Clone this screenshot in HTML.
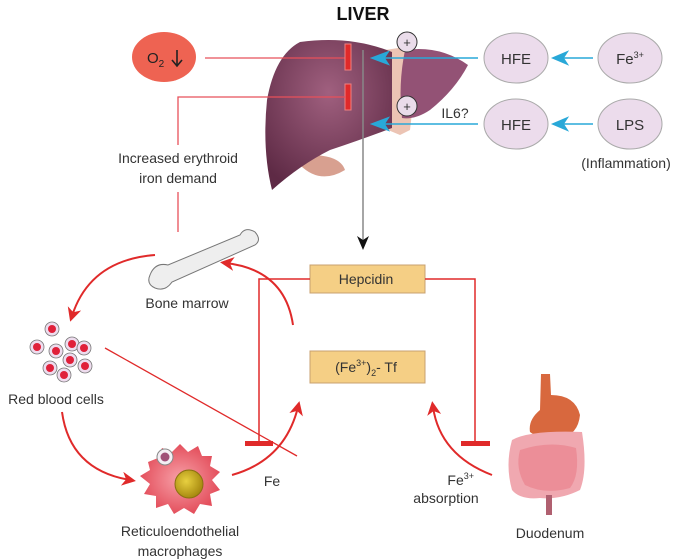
<!DOCTYPE html>
<html><head><meta charset="utf-8"><style>
html,body{margin:0;padding:0;background:#fff}
svg{display:block}
text{font-family:"Liberation Sans",sans-serif;fill:#333}
</style></head><body>
<svg width="685" height="560" viewBox="0 0 685 560" xmlns="http://www.w3.org/2000/svg">
<defs>
<radialGradient id="lv" cx="0.5" cy="0.35" r="0.7"><stop offset="0" stop-color="#a0607f"/><stop offset="1" stop-color="#5e2a45"/></radialGradient>
<radialGradient id="mc" cx="0.5" cy="0.5" r="0.6"><stop offset="0" stop-color="#f7a0a8"/><stop offset="1" stop-color="#e0404e"/></radialGradient>
<radialGradient id="nu" cx="0.4" cy="0.4" r="0.6"><stop offset="0" stop-color="#e8d040"/><stop offset="1" stop-color="#a88a10"/></radialGradient>
<marker id="ra" markerWidth="14" markerHeight="14" refX="8" refY="7" orient="auto" markerUnits="userSpaceOnUse"><path d="M0,0 L14,7 L0,14 L4,7Z" fill="#e02a2a"/></marker>
</defs>
<text x="363" y="20" font-size="18" font-weight="bold" text-anchor="middle" style="fill:#111">LIVER</text>
<!-- liver -->
<path d="M385,50 L412,46 L418,60 L410,130 L400,135 L388,130Z" fill="#ecc4b4"/>
<path d="M300,165 Q320,185 345,170 Q340,155 310,155Z" fill="#d8a090"/>
<path d="M300,42 Q350,35 392,52 L392,128 Q360,140 330,150 Q300,165 272,190 Q262,150 267,100 Q275,55 300,42Z" fill="url(#lv)"/>
<path d="M405,50 Q440,45 468,65 Q455,90 430,110 Q415,120 402,118 Q398,85 405,50Z" fill="#935275"/>
<!-- O2 -->
<ellipse cx="164" cy="57" rx="32" ry="25" fill="#ee6352"/>
<text x="147" y="63" font-size="15" style="fill:#222">O<tspan font-size="10" dy="4">2</tspan></text>
<path d="M177,50 V65 M172,60 L177,66 L182,60" stroke="#222" stroke-width="1.6" fill="none"/>
<line x1="205" y1="58" x2="346" y2="58" stroke="#e8505a" stroke-width="1.3"/>
<rect x="345" y="44" width="6" height="26" fill="#e02a2a" stroke="#f08080"/>
<rect x="345" y="84" width="6" height="26" fill="#e02a2a" stroke="#f08080"/>
<path d="M346,97 H178 V145 M178,192 V232" stroke="#e8505a" stroke-width="1.3" fill="none"/>
<text x="178" y="163" font-size="14" text-anchor="middle">Increased erythroid</text>
<text x="178" y="183" font-size="14" text-anchor="middle">iron demand</text>
<!-- grey down arrow -->
<line x1="363" y1="50" x2="363" y2="240" stroke="#888" stroke-width="1.5"/>
<path d="M357,236 L363,250 L369,236 L363,240Z" fill="#111"/>
<!-- plus -->
<circle cx="407" cy="42" r="10" fill="#eadcea" stroke="#333"/><text x="407" y="47" font-size="13" text-anchor="middle">+</text>
<circle cx="407" cy="106" r="10" fill="#eadcea" stroke="#333"/><text x="407" y="111" font-size="13" text-anchor="middle">+</text>
<!-- cyan arrows -->
<g stroke="#29a8d8" stroke-width="1.6" fill="#29a8d8">
<line x1="478" y1="58" x2="380" y2="58"/><path d="M372,58 L388,52 L384,58 L388,64Z"/>
<line x1="478" y1="124" x2="380" y2="124"/><path d="M372,124 L388,118 L384,124 L388,130Z"/>
<line x1="593" y1="58" x2="560" y2="58"/><path d="M553,58 L567,52 L563,58 L567,64Z"/>
<line x1="593" y1="124" x2="560" y2="124"/><path d="M553,124 L567,118 L563,124 L567,130Z"/>
</g>
<g fill="#ecdcec" stroke="#aaa">
<ellipse cx="516" cy="58" rx="32" ry="25"/><ellipse cx="516" cy="124" rx="32" ry="25"/>
<ellipse cx="630" cy="58" rx="32" ry="25"/><ellipse cx="630" cy="124" rx="32" ry="25"/>
</g>
<text x="516" y="64" font-size="15" text-anchor="middle">HFE</text>
<text x="516" y="130" font-size="15" text-anchor="middle">HFE</text>
<text x="630" y="64" font-size="15" text-anchor="middle">Fe<tspan font-size="9" dy="-6">3+</tspan></text>
<text x="630" y="130" font-size="15" text-anchor="middle">LPS</text>
<text x="455" y="118" font-size="14" text-anchor="middle">IL6?</text>
<text x="626" y="168" font-size="14" text-anchor="middle">(Inflammation)</text>
<!-- boxes -->
<rect x="310" y="265" width="115" height="28" fill="#f5cf85" stroke="#c8a070"/>
<text x="366" y="284" font-size="14" text-anchor="middle">Hepcidin</text>
<rect x="310" y="351" width="115" height="32" fill="#f5cf85" stroke="#c8a070"/>
<text x="366" y="372" font-size="14" text-anchor="middle">(Fe<tspan font-size="9" dy="-6">3+</tspan><tspan dy="6">)</tspan><tspan font-size="9" dy="4">2</tspan><tspan dy="-4">- Tf</tspan></text>
<!-- inhibitory lines -->
<path d="M310,279 H259 V443" stroke="#e02a2a" stroke-width="1.5" fill="none"/>
<rect x="245" y="441" width="28" height="5" fill="#e02a2a"/>
<path d="M425,279 H475 V443" stroke="#e02a2a" stroke-width="1.5" fill="none"/>
<rect x="461" y="441" width="29" height="5" fill="#e02a2a"/>
<line x1="105" y1="348" x2="297" y2="456" stroke="#e02a2a" stroke-width="1.3"/>
<!-- curved arrows -->
<g stroke="#e02a2a" stroke-width="2" fill="none" marker-end="url(#ra)">
<path d="M62,412 Q70,470 130,480"/>
<path d="M232,475 Q285,460 298,407"/>
<path d="M293,325 Q285,270 226,263"/>
<path d="M155,255 Q90,260 72,316"/>
<path d="M492,475 Q440,455 433,407"/>
</g>
<!-- bone -->
<path d="M150,275 Q155,262 168,265 L240,235 Q245,226 255,232 Q262,240 255,245 L172,282 Q165,292 155,288 Q146,284 150,275Z" fill="#eee" stroke="#777"/>
<text x="187" y="308" font-size="14" text-anchor="middle">Bone marrow</text>
<!-- RBCs -->
<g fill="#eedcee" stroke="#777" stroke-width="0.8">
<circle cx="52" cy="329" r="7"/><circle cx="37" cy="347" r="7"/><circle cx="72" cy="344" r="7"/><circle cx="84" cy="348" r="7"/>
<circle cx="56" cy="351" r="7"/><circle cx="70" cy="360" r="7"/><circle cx="85" cy="366" r="7"/><circle cx="50" cy="368" r="7"/><circle cx="64" cy="375" r="7"/>
</g>
<g fill="#e0203a">
<circle cx="52" cy="329" r="4"/><circle cx="37" cy="347" r="4"/><circle cx="72" cy="344" r="4"/><circle cx="84" cy="348" r="4"/>
<circle cx="56" cy="351" r="4"/><circle cx="70" cy="360" r="4"/><circle cx="85" cy="366" r="4"/><circle cx="50" cy="368" r="4"/><circle cx="64" cy="375" r="4"/>
</g>
<text x="56" y="404" font-size="14" text-anchor="middle">Red blood cells</text>
<!-- macrophage -->
<path d="M148,462 L158,458 L162,448 L172,452 L180,444 L188,452 L198,446 L202,456 L212,456 L210,466 L220,472 L212,480 L220,490 L210,494 L212,506 L200,504 L194,514 L184,508 L174,514 L168,504 L156,508 L156,496 L144,494 L150,484 L140,476 L150,470Z" fill="url(#mc)"/>
<circle cx="189" cy="484" r="14" fill="url(#nu)" stroke="#8a7010"/>
<circle cx="165" cy="457" r="8" fill="#f4eef4" stroke="#888"/><circle cx="165" cy="457" r="4.5" fill="#a05078"/>
<text x="272" y="486" font-size="14" text-anchor="middle">Fe</text>
<text x="180" y="536" font-size="14" text-anchor="middle">Reticuloendothelial</text>
<text x="180" y="556" font-size="14" text-anchor="middle">macrophages</text>
<!-- duodenum -->
<path d="M541,374 L550,374 L551,395 Q575,395 580,415 Q578,435 560,438 Q540,440 530,432 Q528,420 540,410 Z" fill="#d8683e"/>
<path d="M512,440 Q530,430 582,432 Q588,470 580,490 Q560,500 540,498 Q520,500 512,490 Q505,465 512,440Z" fill="#f0a8b0"/>
<path d="M520,450 Q550,440 576,448 Q580,475 570,488 Q545,495 525,485 Q515,468 520,450Z" fill="#ec8e98"/>
<rect x="546" y="495" width="6" height="20" fill="#b06070"/>
<text x="474" y="485" font-size="14" text-anchor="end">Fe<tspan font-size="9" dy="-6">3+</tspan></text>
<text x="446" y="503" font-size="14" text-anchor="middle">absorption</text>
<text x="550" y="538" font-size="14" text-anchor="middle">Duodenum</text>
</svg>
</body></html>
